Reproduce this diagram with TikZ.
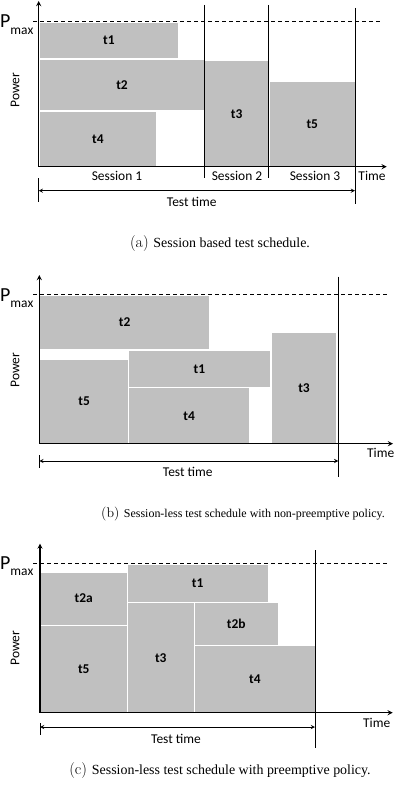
\documentclass[tikz,border=0pt]{standalone}
\usepackage{fontspec}
\usepackage{tikz}
\usetikzlibrary{arrows,positioning,calc}
\newfontfamily\chartfont{Carlito}
\newfontfamily\capfont{Liberation Serif}
\definecolor{taskgray}{RGB}{192,192,192}

\tikzset{
  task/.style={draw=white, line width=0.8bp, fill=taskgray, rectangle, anchor=north west, inner sep=0pt,
    font=\chartfont\bfseries\fontsize{13.5}{16}\selectfont},
  lbl/.style={font=\chartfont\fontsize{13.5}{16}\selectfont, inner sep=0pt},
  axis/.style={line width=1.3bp, ->, >=stealth},
  bound/.style={line width=0.95bp},
  limit/.style={line width=1bp, dash pattern=on 4bp off 3bp},
  span/.style={line width=0.9bp, <->, >=stealth},
  caption/.style={anchor=base, inner sep=0pt, font=\fontsize{16}{18}\selectfont}
}
\newcommand{\pmaxlabel}{{\fontsize{20}{20}\selectfont P}\raisebox{-6.4bp}{max}}

\begin{document}
\begin{tikzpicture}[x=1bp, y=-1bp]
    \useasboundingbox (0,0) rectangle (395,789);

    % (a) Session based
    \node[task, minimum width=138.4bp, minimum height=36bp] (a1) at (39.3,21.7) {t1};
    \node[task, minimum width=164.7bp, minimum height=51.5bp] (a2) at (39.3,58.9) {t2};
    \node[task, minimum width=116.4bp, minimum height=56bp] (a4) at (39.3,110.7) {t4};
    \node[task, minimum width=64.5bp, minimum height=106.7bp] (a3) at (204,60) {t3};
    \node[task, minimum width=86.3bp, minimum height=85.7bp] (a5) at (268.7,81) {t5};

    \coordinate (oa) at (38.7,166.7);
    \coordinate (ya) at (38.7,1);
    \coordinate (xa) at (386.7,166.7);
    \draw[axis] (oa) -- (ya);
    \draw[axis] (oa) -- (xa);
    \coordinate (pa1) at (33,21.7);
    \coordinate (pa2) at (382,21.7);
    \draw[limit] (pa1) -- (pa2);

    \coordinate (sa1) at (204,5);    \coordinate (sa1e) at (204,178);
    \coordinate (sa2) at (268.7,5);  \coordinate (sa2e) at (268.7,178);
    \coordinate (sa3) at (355,8);    \coordinate (sa3e) at (355,204);
    \coordinate (ka) at (38.7,178);  \coordinate (kae) at (38.7,202);
    \draw[bound] (sa1) -- (sa1e);
    \draw[bound] (sa2) -- (sa2e);
    \draw[bound] (sa3) -- (sa3e);
    \draw[bound] (ka) -- (kae);
    \coordinate (ta1) at (38.7,190.7);
    \coordinate (ta2) at (355,190.7);
    \draw[span] (ta1) -- (ta2);

    \node[lbl] (sessa1) at (117,175.7) {Session 1};
    \node[lbl] (sessa2) at (237,175.7) {Session 2};
    \node[lbl] (sessa3) at (315,175.7) {Session 3};
    \node[lbl] (timea) at (372,175.7) {Time};
    \node[lbl] (testa) at (191.7,201.7) {Test time};
    \node[lbl, rotate=90] (powa) at (15,90) {Power};
    \node[lbl, anchor=base west] (pmaxa) at (0,28) {\pmaxlabel};
    \node[caption] (capa) at (220,247) {(a)\ \capfont\fontsize{14}{16}\selectfont Session based test schedule.};

    % (b) Session-less, non-preemptive
    \node[task, minimum width=170bp, minimum height=54bp] (b2) at (39.3,295) {t2};
    \node[task, minimum width=88.9bp, minimum height=85.2bp] (b5) at (39.3,358.5) {t5};
    \node[task, minimum width=141.5bp, minimum height=37.2bp] (b1) at (128.2,350) {t1};
    \node[task, minimum width=121.1bp, minimum height=56.5bp] (b4) at (128.2,387.2) {t4};
    \node[task, minimum width=65.3bp, minimum height=111.7bp] (b3) at (271,332) {t3};

    \coordinate (ob) at (39.3,443.7);
    \coordinate (yb) at (39.3,275);
    \coordinate (xb) at (393,443.7);
    \draw[axis] (ob) -- (yb);
    \draw[axis] (ob) -- (xb);
    \coordinate (pb1) at (33,294.3);
    \coordinate (pb2) at (388,294.3);
    \draw[limit] (pb1) -- (pb2);

    \coordinate (sb) at (338.3,276.7); \coordinate (sbe) at (338.3,476.7);
    \coordinate (kb) at (39.3,455);    \coordinate (kbe) at (39.3,467.7);
    \draw[bound] (sb) -- (sbe);
    \draw[bound] (kb) -- (kbe);
    \coordinate (tb1) at (39.3,461);
    \coordinate (tb2) at (338.3,461);
    \draw[span] (tb1) -- (tb2);

    \node[lbl] (timeb) at (380.7,453.3) {Time};
    \node[lbl] (testb) at (187.7,472.3) {Test time};
    \node[lbl, rotate=90] (powb) at (15,370) {Power};
    \node[lbl, anchor=base west] (pmaxb) at (0,301.5) {\pmaxlabel};
    \node[caption, font=\fontsize{14}{16}\selectfont] (capb) at (243,517) {(b)\ \capfont\fontsize{12}{14}\selectfont Session-less test schedule with non-preemptive policy.};

    % (c) Session-less, preemptive
    \node[task, minimum width=86.7bp, minimum height=53bp] (c2a) at (40,571.5) {t2a};
    \node[task, minimum width=86.7bp, minimum height=88.2bp] (c5) at (40,624.5) {t5};
    \node[task, minimum width=141bp, minimum height=37.5bp] (c1) at (126.7,564.3) {t1};
    \node[task, minimum width=67.3bp, minimum height=110.9bp] (c3) at (126.7,601.8) {t3};
    \node[task, minimum width=83.7bp, minimum height=42.3bp] (c2b) at (194,602.3) {t2b};
    \node[task, minimum width=121bp, minimum height=68.1bp] (c4) at (194,644.6) {t4};

    \coordinate (oc) at (40,712.7);
    \coordinate (yc) at (40,543.5);
    \coordinate (xc) at (392.7,712.7);
    \draw[axis] (oc) -- (yc);
    \draw[axis] (oc) -- (xc);
    \coordinate (pc1) at (33,563.5);
    \coordinate (pc2) at (388,563.5);
    \draw[limit] (pc1) -- (pc2);

    \coordinate (sc) at (315,550);   \coordinate (sce) at (315,748.3);
    \coordinate (kc) at (40,723.3);  \coordinate (kce) at (40,735);
    \draw[bound] (sc) -- (sce);
    \draw[bound] (kc) -- (kce);
    \coordinate (tc1) at (40,727);
    \coordinate (tc2) at (315,727);
    \draw[span] (tc1) -- (tc2);

    \node[lbl] (timec) at (376.7,722.7) {Time};
    \node[lbl] (testc) at (176,739.3) {Test time};
    \node[lbl, rotate=90] (powc) at (15,648) {Power};
    \node[lbl, anchor=base west] (pmaxc) at (0,569.5) {\pmaxlabel};
    \node[caption] (capc) at (220,774) {(c)\ \capfont\fontsize{14}{16}\selectfont Session-less test schedule with preemptive policy.};
\end{tikzpicture}
\end{document}
